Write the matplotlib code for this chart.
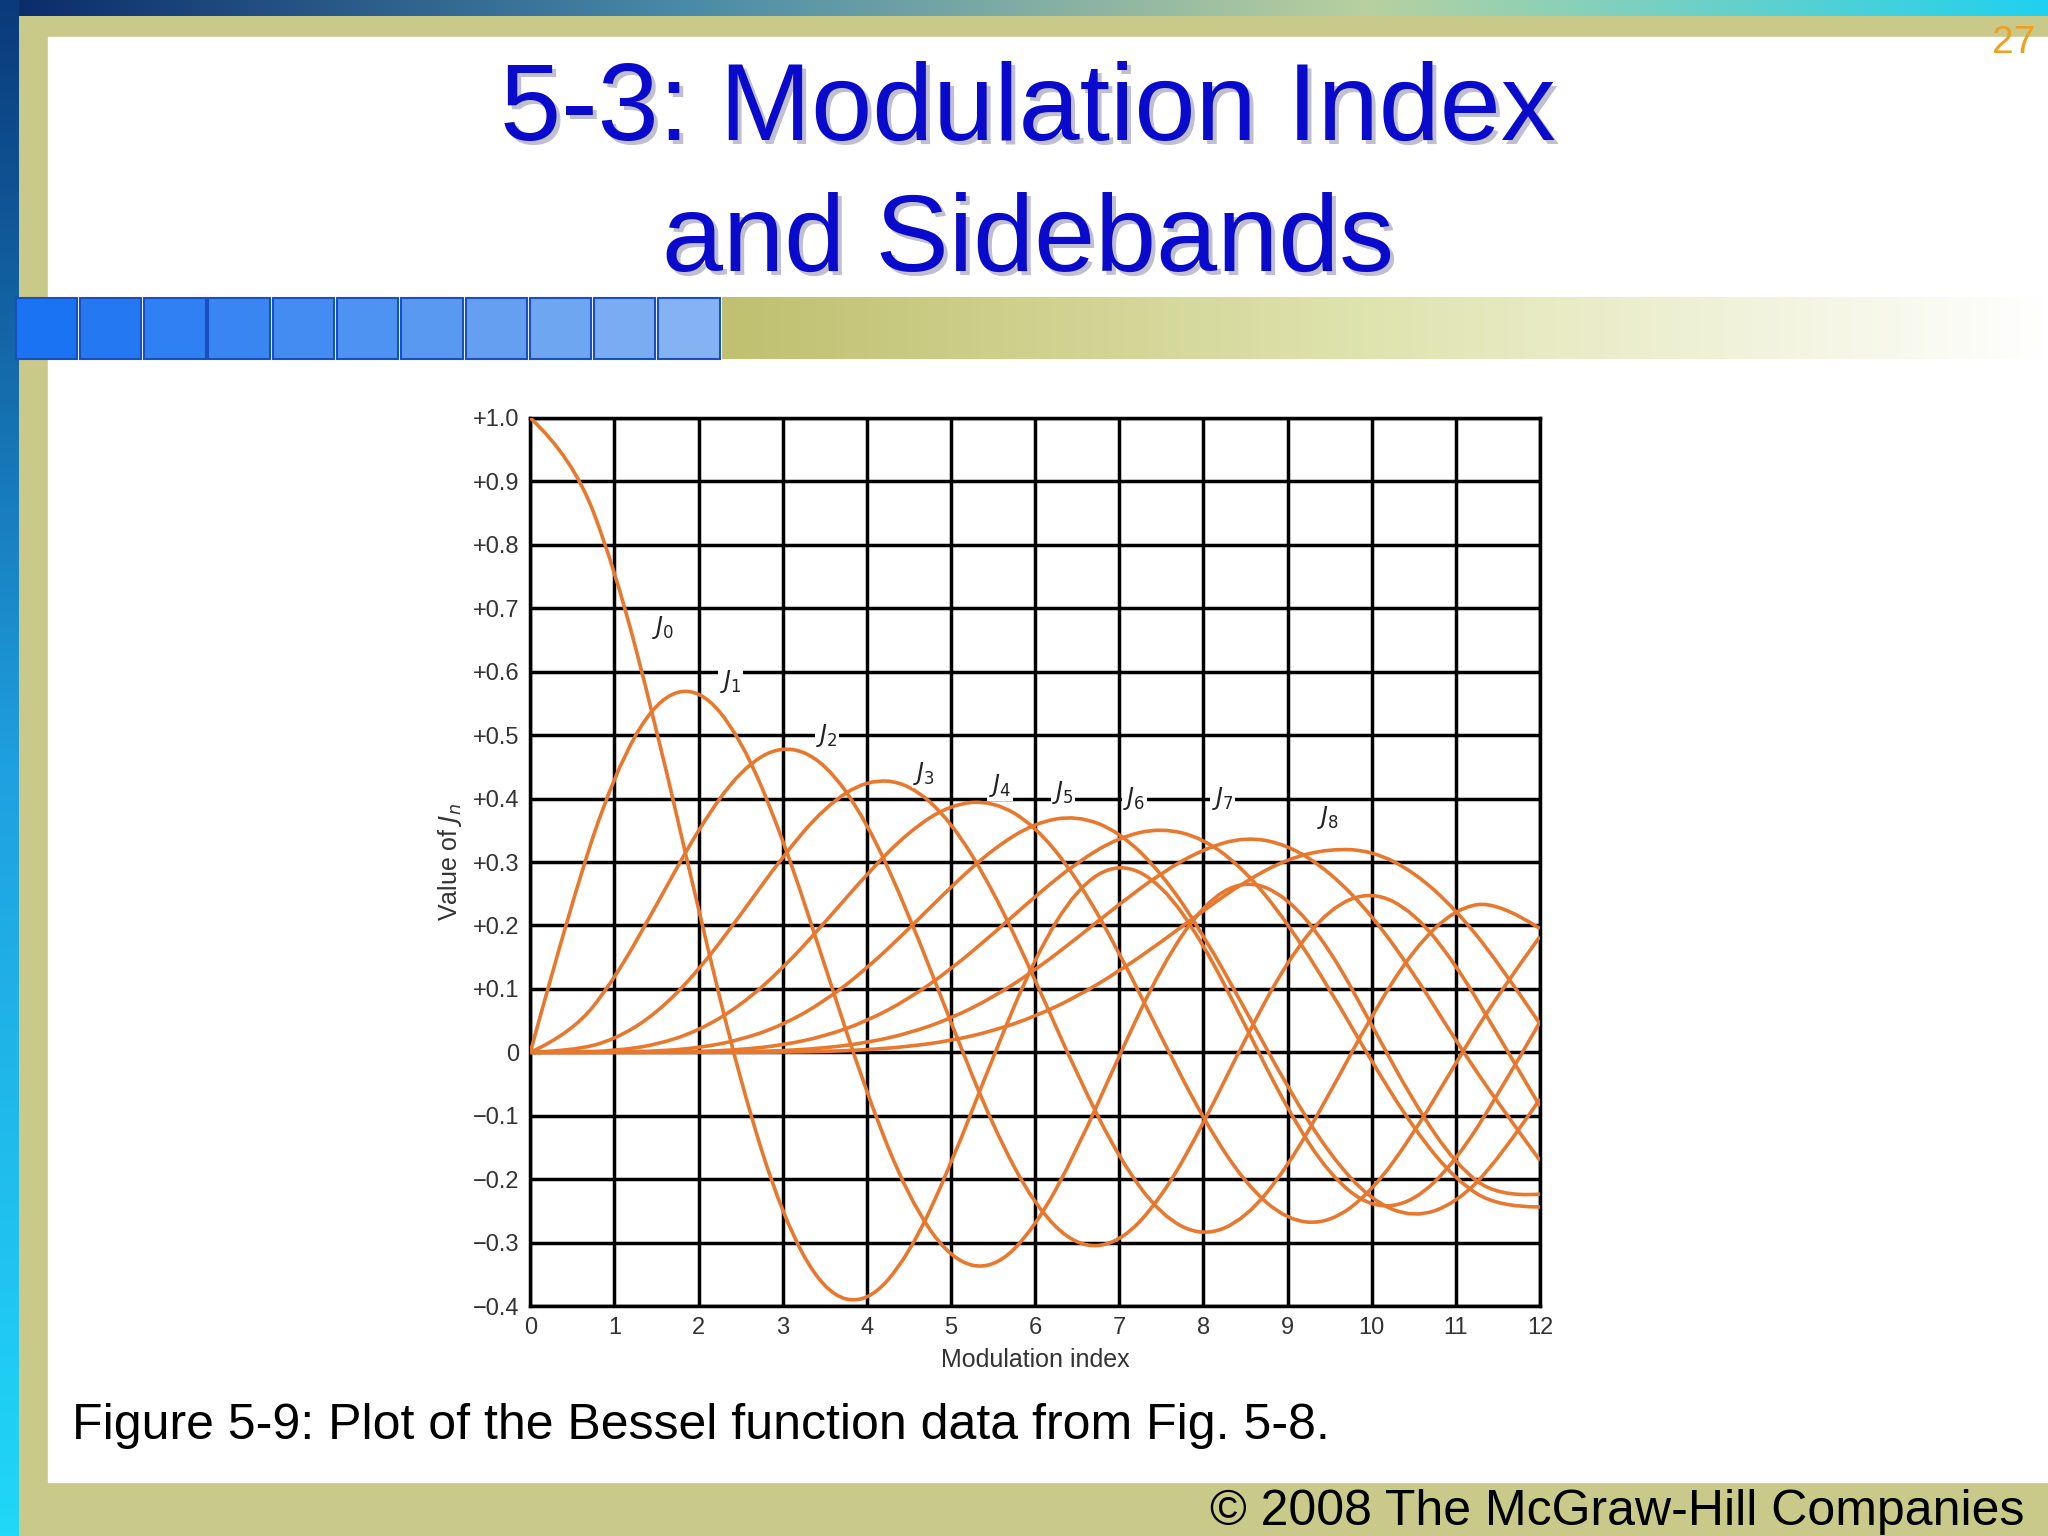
import matplotlib
matplotlib.use("Agg")
import matplotlib.pyplot as plt
import numpy as np
from matplotlib.patches import Rectangle, PathPatch
from matplotlib.path import Path

x = [0,0.5,1,1.5,2,2.5,3,3.5,4,4.5,5,5.5,6,6.5,7,7.5,8,8.5,9,9.5,10,10.5,11,11.5,12]
J0 = [1,.9385,.7652,.5118,.2239,-.0484,-.2601,-.3801,-.3971,-.3205,-.1776,-.0068,.1506,.2601,.3001,.2663,.1717,.0419,-.0903,-.1939,-.2459,-.2366,-.1712,-.0677,.0477]
J1 = [0,.2423,.4401,.5579,.5767,.4971,.3391,.1374,-.0660,-.2311,-.3276,-.3432,-.2767,-.1538,-.0047,.1352,.2346,.2731,.2453,.1638,.0435,-.0789,-.1768,-.2284,-.2234]
J2 = [0,.0306,.1149,.2321,.3528,.4461,.4861,.4586,.3641,.2178,.0466,-.1173,-.2429,-.3074,-.3014,-.2303,-.1130,.0223,.1448,.2279,.2546,.2216,.1390,.0279,-.0849]
J3 = [0,.0026,.0196,.0610,.1289,.2166,.3091,.3868,.4302,.4247,.3648,.2561,.1148,-.0353,-.1676,-.2581,-.2911,-.2626,-.1809,-.0653,.0584,.1633,.2273,.2381,.1951]
J4 = [0,.0002,.0025,.0118,.0340,.0738,.1320,.2044,.2811,.3484,.3912,.3967,.3576,.2748,.1578,.0238,-.1054,-.2077,-.2655,-.2697,-.2196,-.1283,-.0169,.0913,.1825]
J5 = [0,0,.0002,.0018,.0070,.0195,.0430,.0804,.1321,.1947,.2611,.3209,.3621,.3736,.3479,.2835,.1858,.0671,-.0550,-.1613,-.2341,-.2611,-.2383,-.1711,-.0735]
J6 = [0,0,0,.0002,.0012,.0042,.0114,.0254,.0491,.0843,.1310,.1868,.2458,.2999,.3392,.3541,.3376,.2867,.2043,.1000,-.0145,-.1203,-.2016,-.2437,-.2437]
J7 = [0,0,0,0,.0002,.0008,.0025,.0068,.0152,.0300,.0534,.0866,.1296,.1803,.2336,.2830,.3206,.3400,.3275,.2850,.2167,.1250,.0184,-.0800,-.1703]
J8 = [0,0,0,0,0,.0001,.0004,.0013,.0040,.0092,.0184,.0337,.0565,.0880,.1280,.1740,.2235,.2700,.3051,.3210,.3179,.2850,.2250,.1430,.0451]
series = [J0,J1,J2,J3,J4,J5,J6,J7,J8]
label_pos = [(1.45,0.66),(2.25,0.575),(3.4,0.49),(4.55,0.43),(5.45,0.41),(6.2,0.40),(7.05,0.39),(8.1,0.39),(9.35,0.36)]
yticks = [1.0,0.9,0.8,0.7,0.6,0.5,0.4,0.3,0.2,0.1,0,-0.1,-0.2,-0.3,-0.4]

plt.rcParams['font.family'] = ['Liberation Sans', 'DejaVu Sans']
fig = plt.figure(figsize=(20.48,15.36), dpi=100)
fig.patch.set_facecolor('#c9c98a')
bg = fig.add_axes([0,0,1,1]); bg.set_axis_off()
grad = np.linspace(0,1,256)[None,:]
bg.imshow(grad, extent=[0,1568,12,0], cmap=matplotlib.colors.LinearSegmentedColormap.from_list('t',['#0a2a6a','#4a8aa8','#b8d0a0','#20d0f0']), aspect='auto')
bg.imshow(grad.T, extent=[0,14,1176,0], cmap=matplotlib.colors.LinearSegmentedColormap.from_list('l',['#0a3a7a','#1fa0e0','#20d8f8']), aspect='auto')
bg.add_patch(Rectangle((37,28),1531,1107,color='white',zorder=2))
bg.imshow(grad, extent=[553,1568,275,228], cmap=matplotlib.colors.LinearSegmentedColormap.from_list('b',['#c0c070','#e0e4b0','#ffffff']), aspect='auto', zorder=3)
for i in range(11):
    c = matplotlib.colors.to_hex(np.array([0.1,0.45,0.95])*(1-i/12)+np.array([0.6,0.75,0.95])*(i/12))
    bg.add_patch(Rectangle((12+i*49.2,228),47,47,facecolor=c,edgecolor='#1850c0',lw=1.5,zorder=4))
bg.set_xlim(0,1568); bg.set_ylim(1176,0)
for t,yy in [("5-3: Modulation Index",86),("and Sidebands",186)]:
    bg.text(790,yy+3,t,color='#8080a0',fontsize=79,ha='center',va='center',zorder=5,alpha=0.5)
    bg.text(787,yy,t,color='#0a0acc',fontsize=79,ha='center',va='center',zorder=6)
bg.text(1558,33,"27",color='#f0a020',fontsize=28,ha='right',va='center',zorder=6)
bg.text(55,1092,"Figure 5-9: Plot of the Bessel function data from Fig. 5-8.",fontsize=36,va='center',zorder=6)
bg.text(1550,1158,"© 2008 The McGraw-Hill Companies",fontsize=36,ha='right',va='center',zorder=6)

ax = fig.add_axes([406/1568, 1-1000/1176, 773/1568, 680/1176])
for xs in range(13):
    ax.axvline(xs,color='black',lw=2.5,zorder=1)
for ys in yticks:
    ax.axhline(ys,color='black',lw=2.5,zorder=1)

def smooth_path(xs, ys):
    # quadratic Bezier rendering through midpoints, with data points as controls
    pts = list(zip(xs, ys))
    verts = [pts[0]]; codes = [Path.MOVETO]
    for i in range(1, len(pts)-1):
        mid = ((pts[i][0]+pts[i+1][0])/2, (pts[i][1]+pts[i+1][1])/2)
        if i == len(pts)-2:
            mid = pts[-1]
        verts += [pts[i], mid]; codes += [Path.CURVE3, Path.CURVE3]
    return Path(verts, codes)

for s in series:
    ax.add_patch(PathPatch(smooth_path(x, s), facecolor='none', edgecolor='#e8782e', lw=2.6, zorder=3))
for i,(lx,ly) in enumerate(label_pos):
    ax.text(lx,ly,f"$J_{i}$",fontsize=17,color='#222222',zorder=4,
            bbox=dict(facecolor='white',edgecolor='none',pad=1))
ax.set_xlim(0,12); ax.set_ylim(-0.4,1.0)
ax.set_xticks(range(13))
ax.set_yticks(yticks)
ax.set_yticklabels([("+%.1f"%v if v>0 else ("0" if v==0 else "\u2212%.1f"%(-v))) for v in yticks])
ax.tick_params(length=0,labelsize=17,colors='#333333',pad=8)
for sp in ax.spines.values():
    sp.set_linewidth(2.5)
ax.set_xlabel("Modulation index",fontsize=18,color='#333333',labelpad=6)
ax.set_ylabel("Value of $J_n$",fontsize=18,color='#333333',labelpad=6)
fig.savefig("out.png",dpi=100)
